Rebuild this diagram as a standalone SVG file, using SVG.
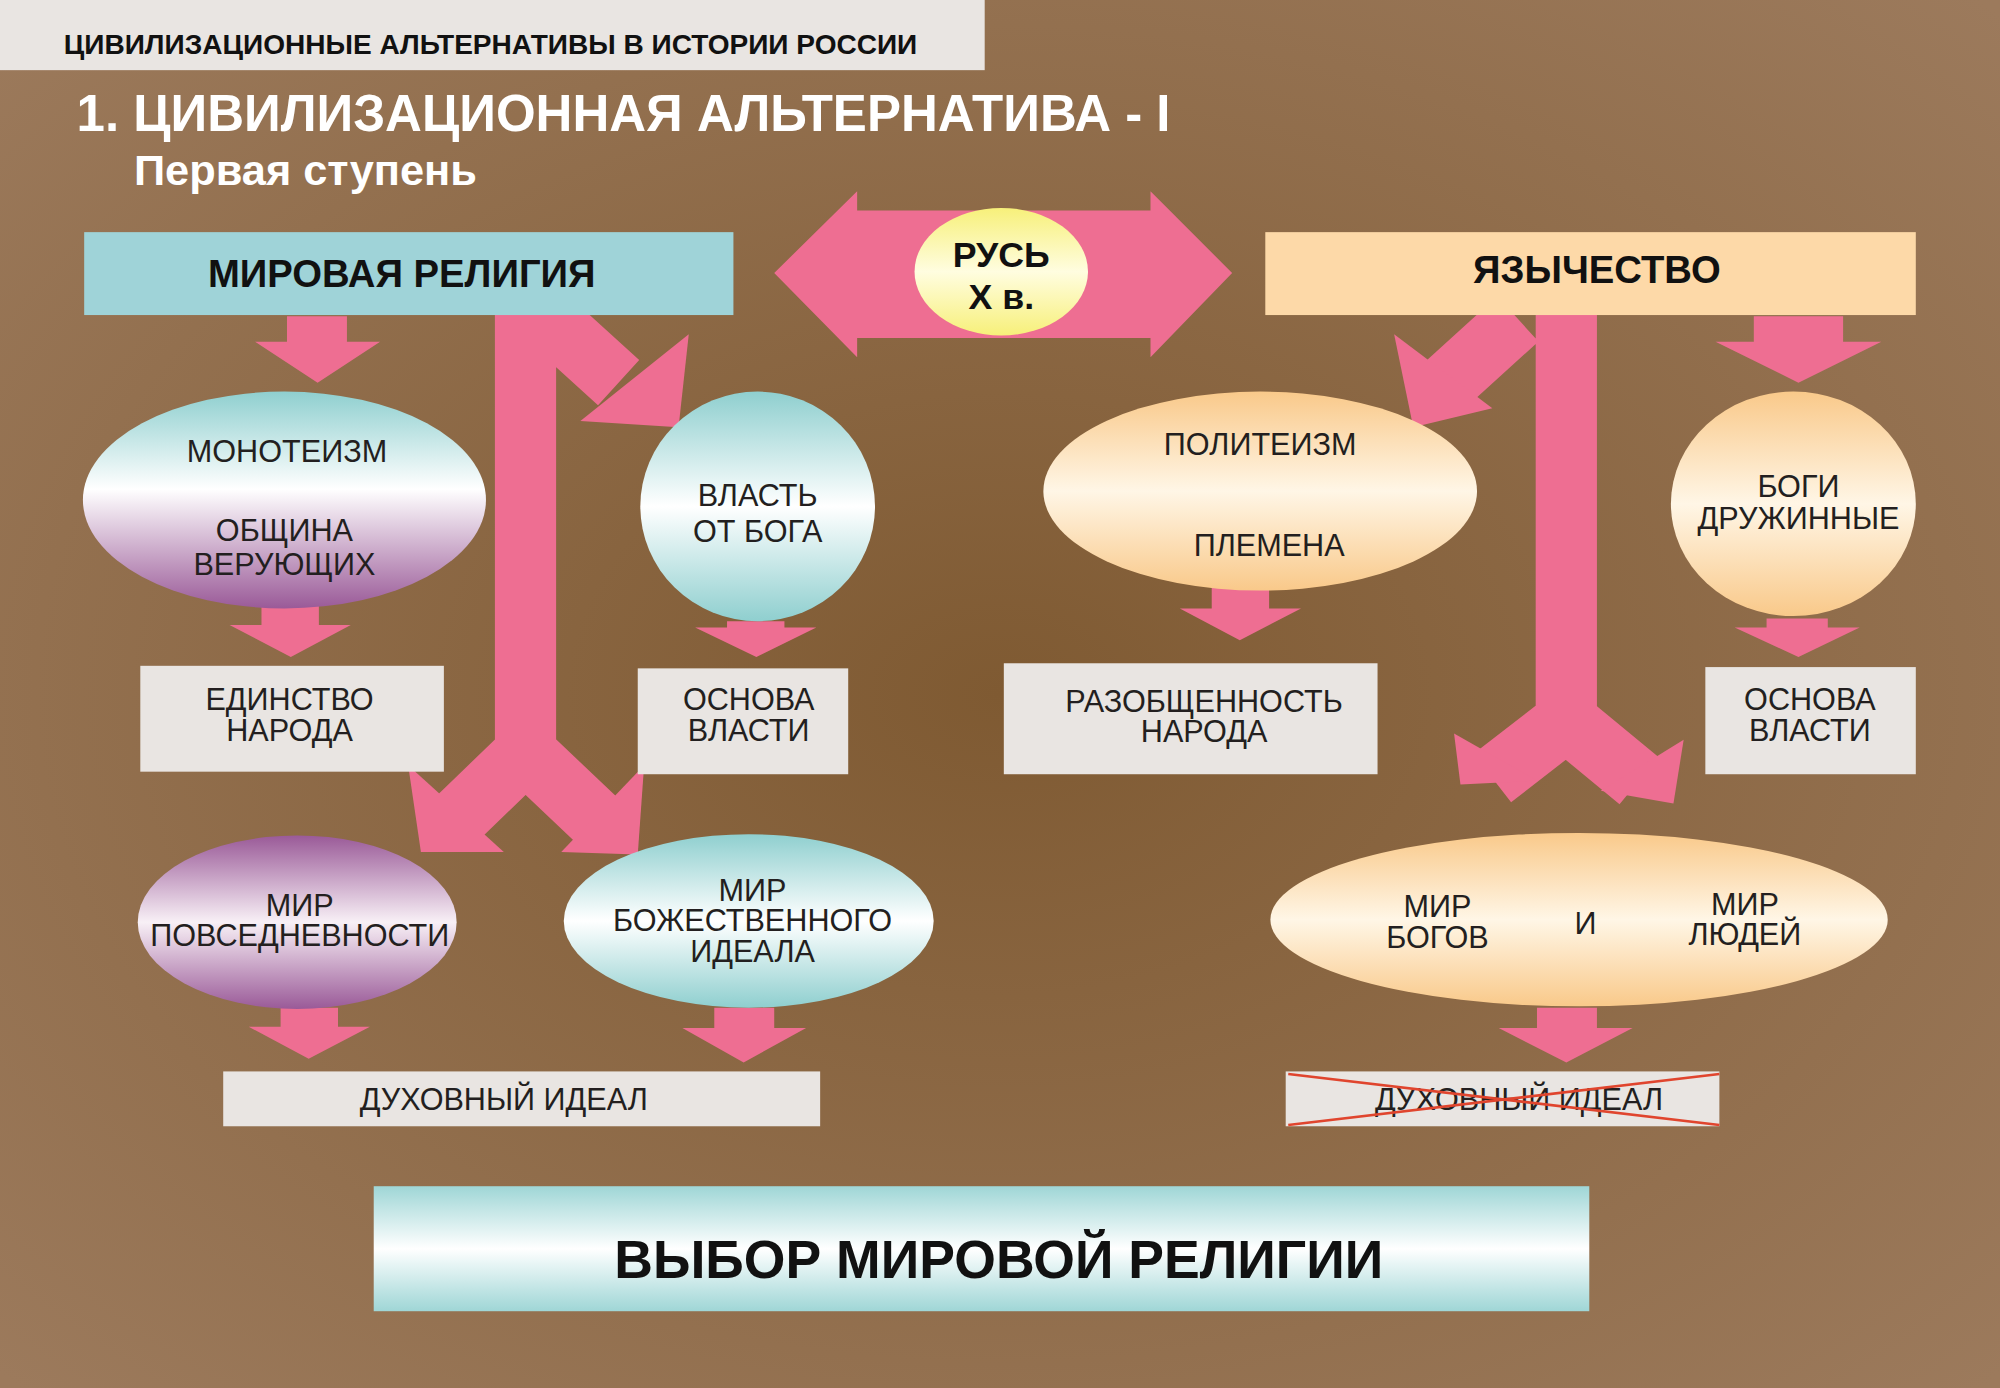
<svg xmlns="http://www.w3.org/2000/svg" width="2000" height="1388" viewBox="0 0 2000 1388">
<defs>
<radialGradient id="bg" cx="50%" cy="50%" r="70%"><stop offset="0" stop-color="#7f5a32"/><stop offset="1" stop-color="#9c7a5c"/></radialGradient>
<linearGradient id="tp" x1="0" y1="0" x2="0" y2="1"><stop offset="0" stop-color="#8fcfcf"/><stop offset="0.45" stop-color="#ffffff"/><stop offset="1" stop-color="#9a5a98"/></linearGradient>
<linearGradient id="pp" x1="0" y1="0" x2="0" y2="1"><stop offset="0" stop-color="#9a5a98"/><stop offset="0.5" stop-color="#f8f0f6"/><stop offset="1" stop-color="#9a5a98"/></linearGradient>
<linearGradient id="tt" x1="0" y1="0" x2="0" y2="1"><stop offset="0" stop-color="#8fcfcf"/><stop offset="0.5" stop-color="#ffffff"/><stop offset="1" stop-color="#8fcfcf"/></linearGradient>
<linearGradient id="oo" x1="0" y1="0" x2="0" y2="1"><stop offset="0" stop-color="#f9c98a"/><stop offset="0.5" stop-color="#fff6e6"/><stop offset="1" stop-color="#f9c98a"/></linearGradient>
<linearGradient id="yy" x1="0" y1="0" x2="0" y2="1"><stop offset="0" stop-color="#f7f07a"/><stop offset="0.5" stop-color="#fffde0"/><stop offset="1" stop-color="#f7f07a"/></linearGradient>
<linearGradient id="bb" x1="0" y1="0" x2="0" y2="1"><stop offset="0" stop-color="#9fd6d6"/><stop offset="0.5" stop-color="#ffffff"/><stop offset="1" stop-color="#9fd6d6"/></linearGradient>
<style>
.a{fill:#ee6e92}.s{stroke:#ee6e92;fill:none}
.box{fill:#e9e5e2}
.t{font-family:"Liberation Sans",Arial,sans-serif;font-size:24px;fill:#231f20;text-anchor:middle}
.b{font-family:"Liberation Sans",Arial,sans-serif;font-weight:bold;text-anchor:middle;fill:#111}
</style>
</defs>
<rect width="2000" height="1388" fill="url(#bg)"/>
<g transform="scale(1.2755)">
<g id="title">
<rect x="0" y="0" width="772" height="55" fill="#e9e5e2"/>
<text x="50" y="42" font-family="Liberation Sans,Arial,sans-serif" font-weight="bold" font-size="22" fill="#111">ЦИВИЛИЗАЦИОННЫЕ АЛЬТЕРНАТИВЫ В ИСТОРИИ РОССИИ</text>
<text x="60" y="103" font-family="Liberation Sans,Arial,sans-serif" font-weight="bold" font-size="40" fill="#fff">1. ЦИВИЛИЗАЦИОННАЯ АЛЬТЕРНАТИВА - I</text>
<text x="105" y="145" font-family="Liberation Sans,Arial,sans-serif" font-weight="bold" font-size="34" fill="#fff">Первая ступень</text>
</g>
<g id="connectors">
<polygon class="a" points="607,214 672,150 672,165 902,165 902,150 966,214 902,280 902,265 672,265 672,280"/>
<polygon class="a" points="225,248 272,248 272,268 298,268 249,300 200,268 225,268"/>
<polygon class="a" points="1375,248 1445,248 1445,268 1475,268 1410,300 1345,268 1375,268"/>
<path class="s" stroke-width="48" d="M412,247 V590 L355,645 M412,590 L470,645 M430,250 L485,300"/>
<polygon class="a" points="320,600 395,668 330,668"/>
<polygon class="a" points="440,668 505,600 500,670"/>
<polygon class="a" points="455,330 540,262 532,335"/>
<path class="s" stroke-width="48" d="M1228,247 V565 L1170,610 M1228,565 L1285,612 M1190,250 L1135,300"/>
<polygon class="a" points="1140,575 1205,612 1145,615"/>
<polygon class="a" points="1255,620 1320,580 1312,630"/>
<polygon class="a" points="1093,262 1108,335 1170,320"/>
<polygon class="a" points="205,475 250,475 250,490 275,490 228,515 180,490 205,490"/>
<polygon class="a" points="570,487 615,487 615,492 640,492 593,515 545,492 570,492"/>
<polygon class="a" points="950,460 995,460 995,477 1020,477 972,502 925,477 950,477"/>
<polygon class="a" points="1385,485 1433,485 1433,492 1458,492 1410,515 1360,492 1385,492"/>
<polygon class="a" points="220,790 265,790 265,805 290,805 242,830 195,805 220,805"/>
<polygon class="a" points="560,790 607,790 607,806 632,806 583,833 535,806 560,806"/>
<polygon class="a" points="1205,790 1252,790 1252,806 1280,806 1228,833 1175,806 1205,806"/>
</g>
<g id="n1"><rect x="66" y="182" width="509" height="65" fill="#9fd3d8"/><text class="b" x="315" y="225" font-size="30">МИРОВАЯ РЕЛИГИЯ</text></g>
<g id="n2"><rect x="992" y="182" width="510" height="65" fill="#fdd9a8"/><text class="b" x="1252" y="222" font-size="30">ЯЗЫЧЕСТВО</text></g>
<g id="n3"><ellipse cx="785" cy="213" rx="68" ry="50" fill="url(#yy)"/><text class="b" x="785" y="209" font-size="28">РУСЬ</text><text class="b" x="785" y="242" font-size="28">Х в.</text></g>
<g id="n4"><ellipse cx="223" cy="392" rx="158" ry="85" fill="url(#tp)"/><text class="t" x="225" y="362">МОНОТЕИЗМ</text><text class="t" x="223" y="424">ОБЩИНА</text><text class="t" x="223" y="451">ВЕРУЮЩИХ</text></g>
<g id="n5"><ellipse cx="594" cy="397" rx="92" ry="90" fill="url(#tt)"/><text class="t" x="594" y="397">ВЛАСТЬ</text><text class="t" x="594" y="425">ОТ БОГА</text></g>
<g id="n6"><ellipse cx="988" cy="385" rx="170" ry="78" fill="url(#oo)"/><text class="t" x="988" y="357">ПОЛИТЕИЗМ</text><text class="t" x="995" y="436">ПЛЕМЕНА</text></g>
<g id="n7"><ellipse cx="1406" cy="395" rx="96" ry="88" fill="url(#oo)"/><text class="t" x="1410" y="390">БОГИ</text><text class="t" x="1410" y="415" font-size="22">ДРУЖИННЫЕ</text></g>
<g id="n8"><rect class="box" x="110" y="522" width="238" height="83"/><text class="t" x="227" y="557" font-size="22">ЕДИНСТВО</text><text class="t" x="227" y="581" font-size="22">НАРОДА</text></g>
<g id="n9"><rect class="box" x="500" y="524" width="165" height="83"/><text class="t" x="587" y="557" font-size="22">ОСНОВА</text><text class="t" x="587" y="581" font-size="22">ВЛАСТИ</text></g>
<g id="n10"><rect class="box" x="787" y="520" width="293" height="87"/><text class="t" x="944" y="558" font-size="22">РАЗОБЩЕННОСТЬ</text><text class="t" x="944" y="582" font-size="22">НАРОДА</text></g>
<g id="n11"><rect class="box" x="1337" y="523" width="165" height="84"/><text class="t" x="1419" y="557" font-size="22">ОСНОВА</text><text class="t" x="1419" y="581" font-size="22">ВЛАСТИ</text></g>
<g id="n12"><ellipse cx="233" cy="723" rx="125" ry="68" fill="url(#pp)"/><text class="t" x="235" y="718">МИР</text><text class="t" x="235" y="742">ПОВСЕДНЕВНОСТИ</text></g>
<g id="n13"><ellipse cx="587" cy="722" rx="145" ry="68" fill="url(#tt)"/><text class="t" x="590" y="706">МИР</text><text class="t" x="590" y="730">БОЖЕСТВЕННОГО</text><text class="t" x="590" y="754">ИДЕАЛА</text></g>
<g id="n14"><ellipse cx="1238" cy="721" rx="242" ry="68" fill="url(#oo)"/><text class="t" x="1127" y="719">МИР</text><text class="t" x="1127" y="743">БОГОВ</text><text class="t" x="1243" y="732">И</text><text class="t" x="1368" y="717">МИР</text><text class="t" x="1368" y="741">ЛЮДЕЙ</text></g>
<g id="n15"><rect class="box" x="175" y="840" width="468" height="43"/><text class="t" x="395" y="870" font-size="22">ДУХОВНЫЙ ИДЕАЛ</text></g>
<g id="n16"><rect class="box" x="1008" y="840" width="340" height="43"/><text class="t" x="1191" y="870" font-size="22">ДУХОВНЫЙ ИДЕАЛ</text><path d="M1010,842 L1348,882 M1010,882 L1348,842" stroke="#e0452e" stroke-width="2"/></g>
<g id="n17"><rect x="293" y="930" width="953" height="98" fill="url(#bb)"/><text class="b" x="783" y="1002" font-size="42">ВЫБОР МИРОВОЙ РЕЛИГИИ</text></g>
</g>
</svg>
